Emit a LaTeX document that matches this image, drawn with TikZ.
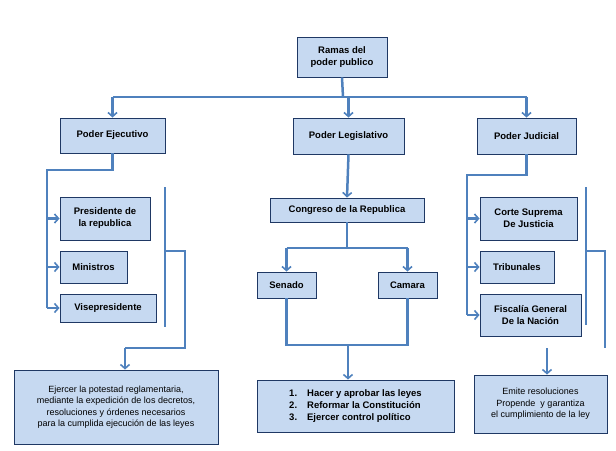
\documentclass[tikz,border=0pt]{standalone}
\usepackage{fontspec}
\setmainfont{Liberation Sans}
\usetikzlibrary{arrows.meta}
\definecolor{fillb}{RGB}{198,217,241}
\definecolor{edgeb}{RGB}{31,56,100}
\definecolor{lineb}{RGB}{79,129,189}
\begin{document}
\begin{tikzpicture}[x=1pt,y=-1pt,
  box/.style={draw=edgeb,fill=fillb,line width=0.9pt,inner sep=1pt,align=center,font=\fontsize{9.5}{12}\selectfont\bfseries},
  tbox/.style={box,font=\fontsize{9}{11.5}\selectfont},
  ln/.style={draw=lineb,line width=2.5pt},
  arr/.style={ln,-{Straight Barb[length=4pt,width=9pt,line width=1.6pt]}}]
\useasboundingbox (0,0) rectangle (616,450);
\node[box,minimum width=90,minimum height=40] (ramas) at (342,57) {Ramas del\\poder publico};
\node[box,minimum width=105,minimum height=35] (ejec) at (112.5,135.5) {Poder Ejecutivo};
\node[box,minimum width=111,minimum height=36] (leg) at (348.5,136) {Poder Legislativo};
\node[box,minimum width=99,minimum height=36] (jud) at (526.5,136) {Poder Judicial};
\node[box,minimum width=90,minimum height=43] (pres) at (105,218.5) {Presidente de\\la republica};
\node[box,minimum width=67,minimum height=32] (mini) at (93.5,267) {Ministros};
\node[box,minimum width=96,minimum height=28] (vise) at (108,308) {Visepresidente};
\node[tbox,minimum width=204,minimum height=74] (ejer) at (116,407) {Ejercer la potestad reglamentaria,\\mediante la expedición de los decretos,\\resoluciones y órdenes necesarios\\para la cumplida ejecución de las leyes};
\node[box,minimum width=154,minimum height=24] (cong) at (347,210) {Congreso de la Republica};
\node[box,minimum width=59,minimum height=26] (sen) at (286.5,285) {Senado};
\node[box,minimum width=59,minimum height=26] (cam) at (407.5,285) {Camara};
\node[box,minimum width=197,minimum height=52] (list) at (355.5,406) {\begin{tabular}{@{}l@{\hspace{10pt}}l@{}}1.&Hacer y aprobar las leyes\\2.&Reformar la Constitución\\3.&Ejercer control político\end{tabular}};
\node[box,minimum width=97,minimum height=43] (corte) at (528.5,218.5) {Corte Suprema\\De Justicia};
\node[box,minimum width=74,minimum height=32] (trib) at (517,267) {Tribunales};
\node[box,minimum width=101,minimum height=42] (fisc) at (530.5,315) {Fiscalía General\\De la Nación};
\node[tbox,minimum width=133,minimum height=58] (emite) at (540.5,404) {Emite resoluciones\\Propende\ \ y garantiza\\el cumplimiento de la ley};
% top
\coordinate (top) at (343,97);
\draw[ln] (ramas.south) -- (top);
\draw[ln] (ejec.north|-top) -- (jud.north|-top);
\draw[arr] (ejec.north|-top) -- (ejec.north);
\draw[arr] (leg.north|-top) -- (leg.north);
\draw[arr] (jud.north|-top) -- (jud.north);
% ejecutivo
\coordinate (l1) at (47,170);
\draw[ln] (ejec.south) |- (l1) -- (l1|-vise.west);
\draw[arr] (l1|-pres.west) -- (pres.west);
\draw[arr] (l1|-mini.west) -- (mini.west);
\draw[arr] (l1|-vise.west) -- (vise.west);
\coordinate (b1) at (165,187);
\coordinate (b2) at (165,327);
\draw[ln] (b1) -- (b2);
\coordinate (b3) at (185,348);
\coordinate (b4) at (125,348);
\draw[ln] (165,251) -| (b3) -- (b4);
\draw[arr] (b4) -- (b4|-ejer.north);
% legislativo
\draw[arr] (leg.south) -- (cong.north);
\coordinate (c1) at (347,248);
\draw[ln] (cong.south) -- (c1);
\draw[ln] (sen.north|-c1) -- (cam.north|-c1);
\draw[arr] (sen.north|-c1) -- (sen.north);
\draw[arr] (cam.north|-c1) -- (cam.north);
\coordinate (c2) at (348,345);
\draw[ln] (sen.south) |- (c2) -| (cam.south);
\draw[arr] (c2) -- (c2|-list.north);
% judicial
\coordinate (j1) at (467,175);
\draw[ln] (jud.south) |- (j1) -- (j1|-fisc.west);
\draw[arr] (j1|-corte.west) -- (corte.west);
\draw[arr] (j1|-trib.west) -- (trib.west);
\draw[arr] (j1|-fisc.west) -- (fisc.west);
\coordinate (k1) at (586,187);
\coordinate (k2) at (586,325);
\draw[ln] (k1) -- (k2);
\coordinate (k3) at (605,348);
\draw[ln] (586,251) -| (k3);
\coordinate (k4) at (547,348);
\draw[arr] (k4) -- (k4|-emite.north);
\end{tikzpicture}
\end{document}
